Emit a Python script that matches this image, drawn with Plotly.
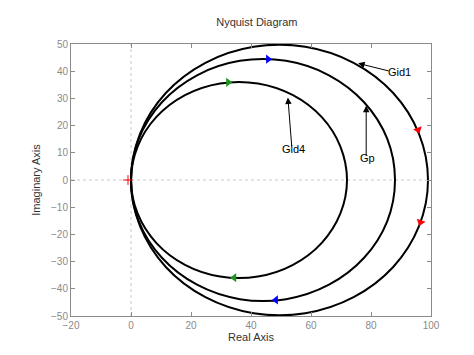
import plotly.graph_objects as go

# Nyquist curves (closed loops, clockwise)
gid1_re = [99.0, 96.0, 87.4, 74.2, 58.1, 40.9, 24.8, 11.6, 3.0, 0.0, 3.0, 11.6, 24.8, 40.9, 58.1, 74.2, 87.4, 96.0, 99.0]
gid1_im = [0.0, 17.0, 32.0, 43.1, 49.0, 49.0, 43.1, 32.0, 17.0, 0.0, -17.0, -32.0, -43.1, -49.0, -49.0, -43.1, -32.0, -17.0, 0.0]
gp_re = [88.0, 85.4, 77.7, 66.0, 51.7, 36.3, 22.0, 10.3, 2.6, 0.0, 2.6, 10.3, 22.0, 36.3, 51.7, 66.0, 77.7, 85.4, 88.0]
gp_im = [0.0, 15.2, 28.6, 38.5, 43.8, 43.8, 38.5, 28.6, 15.2, 0.0, -15.2, -28.6, -38.5, -43.8, -43.8, -38.5, -28.6, -15.2, 0.0]
gid4_re = [72.0, 69.8, 63.6, 54.0, 42.3, 29.7, 18.0, 8.4, 2.2, 0.0, 2.2, 8.4, 18.0, 29.7, 42.3, 54.0, 63.6, 69.8, 72.0]
gid4_im = [0.0, 12.3, 23.1, 31.2, 35.5, 35.5, 31.2, 23.1, 12.3, 0.0, -12.3, -23.1, -31.2, -35.5, -35.5, -31.2, -23.1, -12.3, 0.0]

# direction arrows
arrow_re = [95.7, 96.5, 45.7, 48.3, 32.4, 34.4]
arrow_im = [18.5, -15.5, 44.4, -44.1, 35.9, -35.9]
arrow_colors = ["#ff0000", "#ff0000", "#0000ff", "#0000ff", "#1a9a1a", "#1a9a1a"]
arrow_symbols = ["triangle-down", "triangle-down", "triangle-right", "triangle-left", "triangle-right", "triangle-left"]
arrow_angles = [-20, 18, 0, 0, 0, 0]

# critical point
crit_re = [-1.0]
crit_im = [0.0]

# labels: text position and arrow tip
label_text = ["Gid1", "Gp", "Gid4"]
label_x = [89.5, 78.8, 54.3]
label_y = [39.8, 8.0, 11.4]
tip_x = [75.7, 78.4, 52.3]
tip_y = [42.9, 27.3, 30.3]

x_ticks = [-20, 0, 20, 40, 60, 80, 100]
y_ticks = [-50, -40, -30, -20, -10, 0, 10, 20, 30, 40, 50]

fig = go.Figure()
for xr, yi in [(gid1_re, gid1_im), (gp_re, gp_im), (gid4_re, gid4_im)]:
    fig.add_trace(go.Scatter(x=xr, y=yi, mode="lines",
                             line=dict(color="black", width=2, shape="spline", smoothing=1.0),
                             hoverinfo="skip", showlegend=False))

fig.add_trace(go.Scatter(x=arrow_re, y=arrow_im, mode="markers",
                         marker=dict(color=arrow_colors, symbol=arrow_symbols, angle=arrow_angles,
                                     size=8, line=dict(width=0)),
                         showlegend=False))
fig.add_trace(go.Scatter(x=crit_re, y=crit_im, mode="markers",
                         marker=dict(color="#ff0000", symbol="cross-thin", size=7,
                                     line=dict(color="#ff0000", width=1)),
                         showlegend=False))

# label annotations with arrows
offsets = [(32, 8), (0, 51), (4, 51)]
for t, lx, ly, tx, ty, (ax, ay) in zip(label_text, label_x, label_y, tip_x, tip_y, offsets):
    fig.add_annotation(x=tx, y=ty, ax=ax, ay=ay, text="", showarrow=True,
                       arrowhead=2, arrowsize=1.3, arrowwidth=1, arrowcolor="black",
                       xref="x", yref="y", axref="pixel", ayref="pixel")
    fig.add_annotation(x=lx, y=ly, text=t, showarrow=False,
                       font=dict(size=11, color="black", family="Liberation Sans, Arial"),
                       xref="x", yref="y")

axis_common = dict(showgrid=False, zeroline=False,
                   showline=True, linecolor="#8a8a8a", linewidth=1, mirror="ticks",
                   ticks="inside", ticklen=4, tickcolor="#8a8a8a",
                   tickfont=dict(size=10, color="#8a8a8a", family="Liberation Sans, Arial"))

fig.update_xaxes(range=[-20, 100], tickvals=x_ticks, **axis_common,
                 title=dict(text="Real Axis", font=dict(size=11, color="#333333", family="Liberation Sans, Arial"), standoff=0))
fig.update_yaxes(range=[-50, 50], tickvals=y_ticks, **axis_common,
                 title=dict(text="Imaginary Axis", font=dict(size=11, color="#333333", family="Liberation Sans, Arial"), standoff=8))

fig.add_shape(type="line", x0=0, x1=0, y0=-50, y1=50, xref="x", yref="y",
              line=dict(color="#c8c8c8", width=1, dash="dot"), layer="below")
fig.add_shape(type="line", x0=-20, x1=100, y0=0, y1=0, xref="x", yref="y",
              line=dict(color="#c8c8c8", width=1, dash="dot"), layer="below")

fig.update_layout(
    width=474, height=355,
    margin=dict(l=63, r=51, t=36, b=47),
    paper_bgcolor="white", plot_bgcolor="white",
    title=dict(text="Nyquist Diagram", x=0.525, xanchor="center", y=0.96, yanchor="middle",
               font=dict(size=11, color="#333333", family="Liberation Sans, Arial")),
)

fig.write_html("out.html")
